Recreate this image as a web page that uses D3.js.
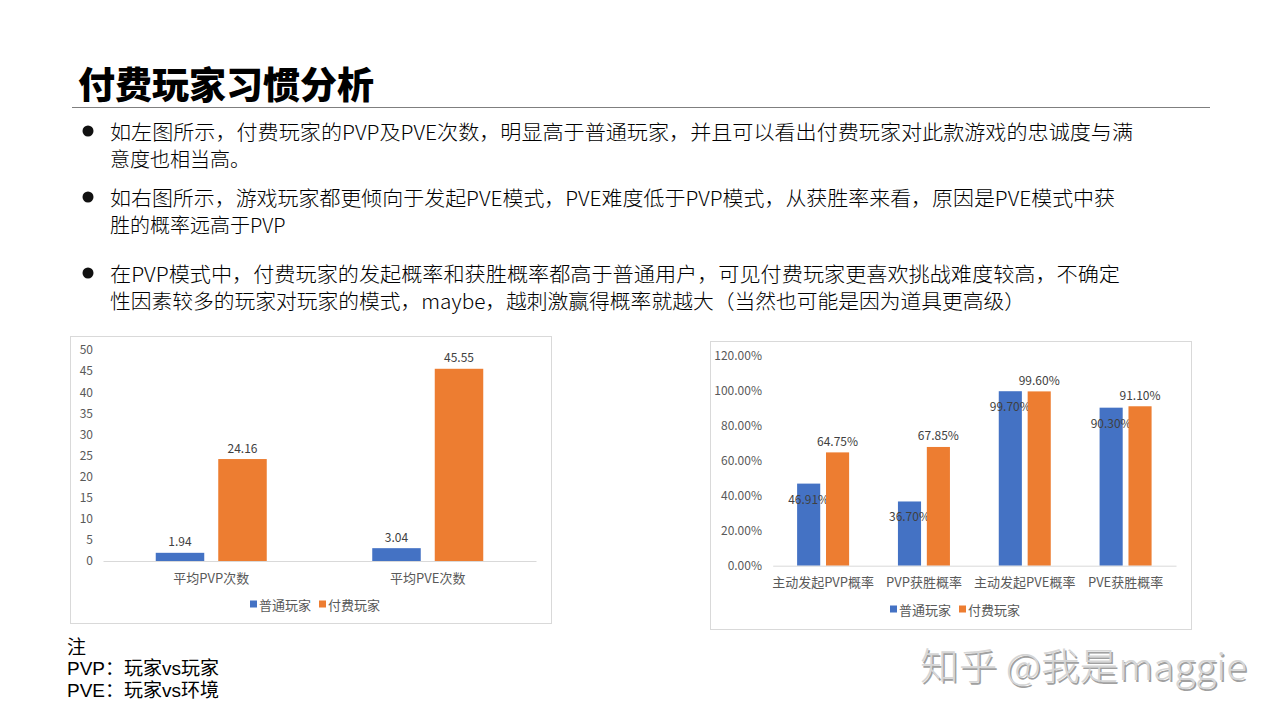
<!DOCTYPE html>
<html><head><meta charset="utf-8">
<script src="https://cdn.jsdelivr.net/npm/d3@7"></script>
<style>
html,body{margin:0;padding:0;background:#fff;}
svg{display:block;}
text{font-family:"Noto Sans CJK SC","Noto Sans",sans-serif;}
</style></head>
<body>
<svg id="c" width="1280" height="720"></svg>
<script>
// ---- data ----
const title = "付费玩家习惯分析";
const bullets = [
  ["如左图所示，付费玩家的PVP及PVE次数，明显高于普通玩家，并且可以看出付费玩家对此款游戏的忠诚度与满", "意度也相当高。"],
  ["如右图所示，游戏玩家都更倾向于发起PVE模式，PVE难度低于PVP模式，从获胜率来看，原因是PVE模式中获", "胜的概率远高于PVP"],
  ["在PVP模式中，付费玩家的发起概率和获胜概率都高于普通用户，可见付费玩家更喜欢挑战难度较高，不确定", "性因素较多的玩家对玩家的模式，maybe，越刺激赢得概率就越大（当然也可能是因为道具更高级）"]
];
const notes = ["注", "PVP：玩家vs玩家", "PVE：玩家vs环境"];
const watermark = "知乎 @我是maggie";

const seriesNames = ["普通玩家", "付费玩家"];
const seriesColors = ["#4472C4", "#ED7D31"];

const leftCategories = ["平均PVP次数", "平均PVE次数"];
const leftNormal = [1.94, 3.04];
const leftPaid = [24.16, 45.55];
const leftTicks = [0, 5, 10, 15, 20, 25, 30, 35, 40, 45, 50];

const rightCategories = ["主动发起PVP概率", "PVP获胜概率", "主动发起PVE概率", "PVE获胜概率"];
const rightNormal = [0.4691, 0.367, 0.997, 0.903];
const rightPaid = [0.6475, 0.6785, 0.996, 0.911];
const rightTicks = [0, 0.2, 0.4, 0.6, 0.8, 1.0, 1.2];

const svg = d3.select("#c");

// ---- title ----
svg.append("text").attr("x", 78).attr("y", 83).attr("dominant-baseline", "central")
  .attr("font-size", 37).attr("font-weight", 900).attr("fill", "#000").text(title);
svg.append("line").attr("x1", 72).attr("x2", 1210).attr("y1", 107.5).attr("y2", 107.5)
  .attr("stroke", "#7f7f7f").attr("stroke-width", 1);

// ---- bullets ----
const bulletY = [131, 197, 273];
const lineWidths = [[1023, null], [1005, null], [1010, 915]];
bullets.forEach((b, i) => {
  svg.append("circle").attr("cx", 88).attr("cy", bulletY[i]).attr("r", 5.5).attr("fill", "#111");
  b.forEach((line, j) => {
    const t = svg.append("text").attr("x", 110).attr("y", bulletY[i] + j * 27)
      .attr("dominant-baseline", "central").attr("font-size", 20).attr("font-weight", 300)
      .attr("fill", "#000").text(line);
    const w = lineWidths[i][j];
    if (w) t.attr("textLength", w).attr("lengthAdjust", "spacingAndGlyphs");
  });
});

// ---- notes ----
const noteY = [647, 668, 690];
notes.forEach((n, i) => {
  svg.append("text").attr("x", 67).attr("y", noteY[i]).attr("dominant-baseline", "central")
    .attr("font-size", 19).attr("fill", "#000")
    .style("font-family", '"Liberation Sans","Noto Sans CJK SC",sans-serif').text(n);
});

// ---- watermark ----
svg.append("text").attr("x", 921.5).attr("y", 665.5).attr("dominant-baseline", "central")
  .attr("font-size", 37).attr("font-weight", 300).attr("fill", "#a0a0a0").attr("textLength", 327).attr("lengthAdjust", "spacingAndGlyphs")
  .text(watermark);
svg.append("text").attr("x", 920).attr("y", 664).attr("dominant-baseline", "central")
  .attr("font-size", 37).attr("font-weight", 300).attr("fill", "#d6d6d6").attr("textLength", 327).attr("lengthAdjust", "spacingAndGlyphs")
  .text(watermark);

// ---- chart builder ----
function drawChart(opt) {
  const g = svg.append("g");
  g.append("rect").attr("x", opt.box[0] + 0.5).attr("y", opt.box[1] + 0.5)
    .attr("width", opt.box[2] - opt.box[0]).attr("height", opt.box[3] - opt.box[1])
    .attr("fill", "#fff").attr("stroke", "#d9d9d9");

  const y = d3.scaleLinear().domain(opt.yDomain).range([opt.y0, opt.y1]);
  const x0 = d3.scaleBand().domain(opt.categories).range([opt.xL, opt.xR]).padding(0);
  const x1 = d3.scaleBand().domain(seriesNames).range([0, opt.groupW]).paddingInner(opt.innerPad).paddingOuter(0);
  const off = (x0.bandwidth() - opt.groupW) / 2;

  // y axis labels
  const yAxis = d3.axisLeft(y).tickValues(opt.ticks).tickSize(0).tickPadding(0).tickFormat(opt.tickFmt);
  const ya = g.append("g").attr("transform", `translate(${opt.yLabelX},0)`).call(yAxis);
  ya.select(".domain").remove();
  ya.selectAll("text").attr("font-size", 12).attr("fill", "#595959")
    .style("font-family", '"Noto Sans CJK SC",sans-serif');

  // bars
  const series = [opt.normal, opt.paid];
  series.forEach((vals, si) => {
    g.selectAll(null).data(opt.categories).enter().append("rect")
      .attr("x", (c) => x0(c) + off + x1(seriesNames[si]))
      .attr("width", x1.bandwidth())
      .attr("y", (c, i) => y(vals[i]))
      .attr("height", (c, i) => y(0) - y(vals[i]))
      .attr("fill", seriesColors[si]);
    g.selectAll(null).data(opt.categories).enter().append("text")
      .attr("x", (c) => x0(c) + off + x1(seriesNames[si]) + x1.bandwidth() / 2)
      .attr("y", (c, i) => y(vals[i]) + opt.labelDy[si])
      .attr("text-anchor", "middle").attr("dominant-baseline", "central")
      .attr("font-size", 12).attr("fill", "#404040")
      .text((c, i) => opt.valFmt(vals[i]));
  });

  // x axis
  const xAxis = d3.axisBottom(x0).tickSize(0).tickPadding(0);
  const xa = g.append("g").attr("transform", `translate(0,${y(0)})`).call(xAxis);
  xa.select(".domain").attr("stroke", "#d9d9d9");
  xa.selectAll("text").attr("font-size", 13).attr("fill", "#595959").attr("dy", null)
    .attr("y", opt.catDy).attr("dominant-baseline", "central")
    .style("font-family", '"Noto Sans CJK SC",sans-serif');

  // legend
  const lg = g.append("g");
  seriesNames.forEach((s, i) => {
    lg.append("rect").attr("x", opt.legendX[i]).attr("y", opt.legendY - 3.5).attr("width", 7).attr("height", 7)
      .attr("fill", seriesColors[i]);
    lg.append("text").attr("x", opt.legendX[i] + 9).attr("y", opt.legendY).attr("dominant-baseline", "central")
      .attr("font-size", 13).attr("fill", "#595959").text(s);
  });
}

drawChart({
  box: [70, 336, 551, 623],
  categories: leftCategories, normal: leftNormal, paid: leftPaid,
  yDomain: [0, 50], y0: 561, y1: 350, ticks: leftTicks,
  tickFmt: d3.format("d"), valFmt: d3.format(".2f"),
  xL: 103, xR: 536, groupW: 111, innerPad: 0.224,
  yLabelX: 93, labelDy: [-12, -12], catDy: 16,
  legendX: [250, 319], legendY: 604
});

drawChart({
  box: [710, 341, 1191, 629],
  categories: rightCategories, normal: rightNormal, paid: rightPaid,
  yDomain: [0, 1.2], y0: 565.7, y1: 355.7, ticks: rightTicks,
  tickFmt: d3.format(".2%"), valFmt: d3.format(".2%"),
  xL: 772.7, xR: 1176, groupW: 52, innerPad: 0.2,
  yLabelX: 762, labelDy: [14.5, -12], catDy: 16,
  legendX: [890, 959], legendY: 609
});
</script>
</body></html>
